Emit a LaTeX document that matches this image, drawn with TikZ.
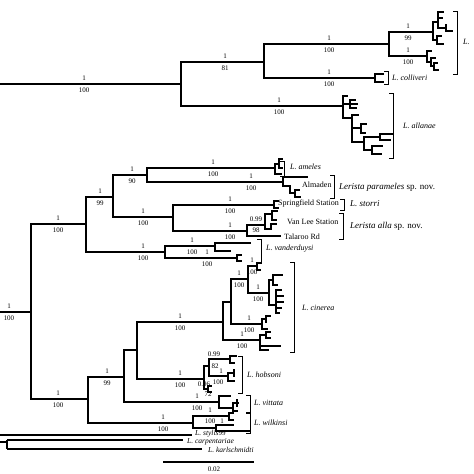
\documentclass[tikz,border=0pt]{standalone}
\usepackage{fontspec}
\setmainfont{Liberation Serif}
\newcounter{lab}
\newcommand\bs[4]{\stepcounter{lab}\node[num] (n\arabic{lab}a) at (#1,{#2-5.5}) {#3};\node[num] (n\arabic{lab}b) at (#1,{#2+6.5}) {#4};}
\newcommand\brk[3]{\draw[brk] ({#1-4},#2) -- (#1,#2) -- (#1,#3) -- ({#1-4},#3);}
\begin{document}
\begin{tikzpicture}[x=1pt,y=-1pt,
  br/.style={line width=1.6pt, line cap=rect},
  tp/.style={line width=2pt, line cap=rect},
  og/.style={line width=1.2pt},
  brk/.style={line width=0.9pt},
  num/.style={font=\fontsize{7}{8}\selectfont, inner sep=0pt},
  sp/.style={font=\fontsize{8}{9}\selectfont\itshape, anchor=west, inner sep=0pt},
  ogl/.style={font=\fontsize{7.5}{8}\selectfont\itshape, anchor=west, inner sep=0pt},
  grp/.style={font=\fontsize{9}{10}\selectfont, anchor=west, inner sep=0pt},
  rd/.style={font=\fontsize{8}{9}\selectfont, anchor=west, inner sep=0pt}]
\useasboundingbox (0,0) rectangle (474,474);
% ---------- upper clade ----------
\draw[br] (0,84) -- (181,84); \bs{84}{84}{1}{100}
\draw[br] (181,62) -- (181,106);
\draw[br] (181,62) -- (264,62); \bs{225}{62}{1}{81}
\draw[br] (264,44) -- (264,78);
\draw[br] (264,44) -- (389,44); \bs{329}{44}{1}{100}
\draw[br] (389,32) -- (389,56);
\draw[br] (389,32) -- (433,32); \bs{408}{32}{1}{99}
\draw[br] (389,56) -- (427,56); \bs{408}{56}{1}{100}
\draw[tp] (433,22) -- (433,40) (433,22) -- (438,22) (438,12) -- (438,28) (438,12) -- (443,12)
  (438,18) -- (442,18) (438,28) -- (446,28) (446,25) -- (446,31) (446,31) -- (452,31)
  (433,40) -- (437,40) (437,36) -- (437,44) (437,36) -- (441,36) (437,44) -- (443,44);
\draw[tp] (427,51) -- (427,62) (427,51) -- (431,51) (427,62) -- (431,62) (431,58) -- (431,66)
  (431,58) -- (435,58) (431,66) -- (434,66) (434,63) -- (434,70) (434,63) -- (437,63) (434,70) -- (438,70);
\draw[br] (264,78) -- (375,78); \bs{329}{78}{1}{100}
\draw[tp] (375,74) -- (375,82) (375,74) -- (383,74) (375,82) -- (383,82);
\brk{388}{71}{84} \node[sp] (colliveri) at (392,78) {L. colliveri};
\brk{457}{11}{74} \node[sp] (lz) at (463,42) {L.};
% allanae
\draw[br] (181,106) -- (343,106); \bs{279}{106}{1}{100}
\draw[br] (343,96) -- (343,118);
\draw[tp] (343,96) -- (347,96) (343,104) -- (350,104) (350,100) -- (350,108) (350,100) -- (355,100)
  (350,104) -- (357,104) (350,108) -- (356,108)
  (343,118) -- (352,118) (352,115) -- (352,142) (352,115) -- (358,115)
  (352,128) -- (361,128) (361,124) -- (361,133) (361,124) -- (366,124) (361,133) -- (365,133)
  (352,142) -- (364,142) (364,137) -- (364,150) (364,137) -- (380,137) (380,134) -- (380,140)
  (380,134) -- (392,134) (380,140) -- (390,140) (364,150) -- (372,150) (372,146) -- (372,154)
  (372,146) -- (382,146) (372,154) -- (381,154);
\brk{393}{93}{158} \node[sp] (allanae) at (403,126) {L. allanae};
% ---------- lower clade ----------
\draw[br] (0,312) -- (31,312); \bs{9}{312}{1}{100}
\draw[br] (31,224) -- (31,399);
\draw[br] (31,224) -- (86,224); \bs{58}{224}{1}{100}
\draw[br] (86,197) -- (86,252);
\draw[br] (86,197) -- (113,197); \bs{100}{197}{1}{99}
\draw[br] (113,175) -- (113,217);
\draw[br] (113,175) -- (147,175); \bs{132}{175}{1}{90}
\draw[br] (147,168) -- (147,182);
\draw[br] (147,168) -- (275,168); \bs{213}{168}{1}{100}
\draw[tp] (275,164) -- (275,174) (275,164) -- (279,164) (279,159) -- (279,168) (279,159) -- (282,159)
  (279,168) -- (282,168) (275,174) -- (281,174);
\brk{284}{161}{176} \node[sp] (ameles) at (290,167) {L. ameles};
\draw[br] (147,182) -- (283,182); \bs{251}{182}{1}{100}
\draw[br] (283,177) -- (283,186) (283,177) -- (307,177);
\draw[tp] (283,186) -- (290,186) (290,186) -- (290,193) (290,193) -- (295,193) (295,190) -- (295,197)
  (295,190) -- (299,190) (295,197) -- (300,197);
\node[rd] (almaden) at (302,185) {Almaden};
\brk{334}{175}{198} \node[grp] (param) at (339,187) {\textit{Lerista parameles} sp. nov.};
\draw[br] (113,217) -- (173,217); \bs{143}{217}{1}{100}
\draw[br] (173,205) -- (173,231);
\draw[br] (173,205) -- (274,205); \bs{230}{205}{1}{100}
\draw[tp] (274,201) -- (274,208) (274,201) -- (278,201) (274,208) -- (278,208);
\node[rd] (spring) at (278,204) {Springfield Station};
\brk{344}{199}{210} \node[grp] (storri) at (350,204) {\textit{L. storri}};
\draw[br] (173,231) -- (247,231); \bs{230}{231}{1}{100}
\draw[br] (247,225) -- (247,236) (247,225) -- (265,225) (247,236) -- (280,236);
\node[num] (v099) at (256,219.5) {0.99}; \node[num] (v98) at (256,230.5) {98};
\draw[tp] (265,214) -- (265,229) (265,214) -- (272,214) (272,211) -- (272,220) (272,211) -- (277,211)
  (272,220) -- (276,220) (265,229) -- (271,229) (271,224) -- (271,229) (271,224) -- (276,224);
\node[rd] (vanlee) at (287,222) {Van Lee Station};
\node[rd] (talaroo) at (284,237) {Talaroo Rd};
\brk{343}{213}{239} \node[grp] (alla) at (350,226) {\textit{Lerista alla} sp. nov.};
% vanderduysi
\draw[br] (86,252) -- (165,252); \bs{143}{252}{1}{100}
\draw[br] (165,246) -- (165,258);
\draw[br] (165,246) -- (215,246); \bs{192}{246}{1}{100}
\draw[br] (215,243) -- (215,251) (215,243) -- (250,243) (215,251) -- (230,251);
\draw[br] (165,258) -- (237,258); \bs{207}{258}{1}{100}
\draw[tp] (237,255) -- (237,261) (237,255) -- (241,255) (237,261) -- (241,261);
\brk{261}{239}{262} \node[sp] (vander) at (266,249) {L. vanderduysi};
% cinerea / hobsoni / vittata / wilkinsi
\draw[br] (31,399) -- (88,399); \bs{58}{399}{1}{100}
\draw[br] (88,377) -- (88,423);
\draw[br] (88,377) -- (124,377); \bs{107}{377}{1}{99}
\draw[br] (124,350) -- (124,402);
\draw[br] (124,350) -- (137,350);
\draw[br] (137,322) -- (137,379);
\draw[br] (137,322) -- (223,322); \bs{180}{322}{1}{100}
\draw[br] (223,302) -- (223,340) (223,302) -- (231,302) (231,279) -- (231,324);
\draw[br] (231,279) -- (248,279); \bs{239}{279}{1}{100}
\draw[br] (248,266) -- (248,293);
\draw[br] (248,266) -- (257,266); \bs{252}{266}{1}{100}
\draw[tp] (257,263) -- (257,270) (257,263) -- (261,263) (257,270) -- (260,270);
\draw[br] (248,293) -- (269,293); \bs{258}{293}{1}{100}
\draw[br] (269,280) -- (269,305);
\draw[tp] (269,280) -- (273,280) (273,275) -- (273,285) (273,275) -- (282,275) (273,285) -- (277,285)
  (269,305) -- (276,305) (276,290) -- (276,313) (276,290) -- (281,290) (276,296) -- (283,296)
  (276,302) -- (283,302) (276,308) -- (281,308) (276,313) -- (279,313);
\draw[br] (231,324) -- (262,324); \bs{249}{324}{1}{100}
\draw[tp] (262,319) -- (262,329) (262,319) -- (266,319) (266,316) -- (266,322) (266,316) -- (270,316)
  (262,329) -- (267,329);
\draw[br] (223,340) -- (260,340); \bs{242}{340}{1}{100}
\draw[tp] (260,335) -- (260,350) (260,335) -- (266,335) (266,332) -- (266,338) (266,332) -- (270,332)
  (266,338) -- (270,338) (260,346) -- (280,346) (260,350) -- (268,350);
\brk{294}{262}{352} \node[sp] (cinerea) at (302,308) {L. cinerea};
% hobsoni
\draw[br] (137,379) -- (204,379); \bs{180}{379}{1}{100}
\draw[br] (204,366) -- (204,389) (204,366) -- (209,366) (209,359) -- (209,376);
\draw[br] (209,359) -- (230,359); \node[num] (h099) at (214,354) {0.99}; \node[num] (h82) at (215,366) {82};
\draw[tp] (230,356) -- (230,363) (230,356) -- (236,356) (230,363) -- (234,363);
\draw[br] (209,376) -- (228,376); \node[num] (h1) at (221,371) {1}; \node[num] (h100) at (218,382) {100};
\draw[tp] (228,373) -- (228,381) (228,373) -- (234,373) (234,370) -- (234,376) (228,381) -- (234,381);
\draw[tp] (204,389) -- (208,389) (208,386) -- (208,392) (208,386) -- (211,386) (208,392) -- (211,392);
\node[num] (h096) at (204,384) {0.96}; \node[num] (h72) at (208,394) {72};
\brk{242}{356}{393} \node[sp] (hobsoni) at (247,375) {L. hobsoni};
% vittata
\draw[br] (124,402) -- (219,402); \bs{197}{402}{1}{100}
\draw[br] (219,396) -- (219,408) (219,396) -- (230,396) (219,408) -- (233,408);
\draw[tp] (233,403) -- (233,411) (233,403) -- (238,403) (237,400) -- (237,406) (233,411) -- (237,411);
\brk{250}{395}{412} \node[sp] (vittata) at (254,403) {L. vittata};
% wilkinsi
\draw[br] (88,423) -- (193,423); \bs{163}{423}{1}{100}
\draw[br] (193,416) -- (193,428);
\draw[br] (193,416) -- (229,416); \node[num] (w1) at (210,410.5) {1}; \node[num] (w100) at (210,421.5) {100};
\draw[tp] (229,413) -- (229,420) (229,413) -- (233,413) (229,420) -- (233,420);
\draw[br] (193,428) -- (216,428) (216,425) -- (216,431) (216,425) -- (233,425) (216,431) -- (249,431);
\node[num] (w1b) at (222,421.5) {1}; \node[num] (w99) at (222,433) {99};
\brk{250}{413}{433} \node[sp] (wilkinsi) at (254,423) {L. wilkinsi};
% outgroups
\draw[og] (0,435) -- (192,435);
\draw[og] (0,442) -- (7,442) (7,440) -- (7,449) (7,440) -- (183,440) (7,449) -- (202,449);
\node[ogl] (stylis) at (195,434) {L. stylis};
\node[ogl] (carp) at (187,442) {L. carpentariae};
\node[ogl] (karl) at (208,450) {L. karlschmidti};
% scale bar
\draw[og] (163,462) -- (254,462);
\node[num] (scale) at (214,469) {0.02};
\end{tikzpicture}
\end{document}
